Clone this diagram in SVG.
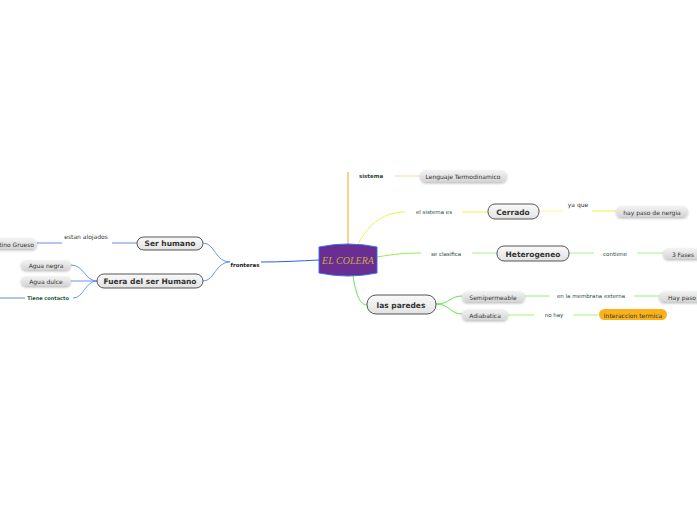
<svg xmlns="http://www.w3.org/2000/svg" width="697" height="520" viewBox="0 0 697 520">
<defs>
<linearGradient id="g" x1="0" y1="0" x2="0" y2="1"><stop offset="0" stop-color="#f4f4f4"/><stop offset="1" stop-color="#d4d4d4"/></linearGradient>
<linearGradient id="gn" x1="0" y1="0" x2="0" y2="1"><stop offset="0" stop-color="#fafafa"/><stop offset="1" stop-color="#e2e2e2"/></linearGradient>
<filter id="sh" x="-20%" y="-30%" width="140%" height="180%"><feDropShadow dx="0" dy="1.5" stdDeviation="1.2" flood-color="#000" flood-opacity="0.25"/></filter>
</defs>
<style>
text{font-family:"DejaVu Sans","Noto Sans",sans-serif;text-anchor:middle;dominant-baseline:central}
.pill{fill:url(#g);filter:url(#sh)}
.pt{font-size:6px;fill:#333}
.node{fill:url(#gn);stroke:#555;stroke-width:1}
.nt{font-size:7.5px;font-weight:bold;fill:#333}
.lb{font-size:5.5px;fill:#2a4a3a}
.l{fill:none;stroke-width:1}
</style>
<rect width="697" height="520" fill="#fff"/>
<g id="connectors">
<path class="l" d="M348 244 V172" stroke="#f7a21b" stroke-width="1.5"/>
<path class="l" d="M395 176 H420" stroke="#fdd9a0"/>
<path class="l" d="M358 244 C370 222 385 212 405 212" stroke="#f2f24a"/>
<path class="l" d="M462 212 H488" stroke="#f2f24a"/>
<path class="l" d="M539 211 H563" stroke="#f7f7a0"/>
<path class="l" d="M592 211 H616" stroke="#f2f24a"/>
<path class="l" d="M377 257 C395 254 405 253 421 253" stroke="#8ef24a"/>
<path class="l" d="M472 253 H497" stroke="#a6f57a"/>
<path class="l" d="M569 253 H594" stroke="#a6f57a"/>
<path class="l" d="M637 253 H663" stroke="#a6f57a"/>
<path class="l" d="M353 276 C356 295 360 305 367 305" stroke="#5ee84a" stroke-width="1.3"/>
<path class="l" d="M436 304 C450 304 450 296 462 296 M436 304 C450 304 450 314 462 314" stroke="#5ee84a"/>
<path class="l" d="M525 296 H549 M634 296 H659" stroke="#8ef27a"/>
<path class="l" d="M508 315 H534 M573 315 H598" stroke="#a6f57a"/>
<path class="l" d="M319 260 C300 261 280 262 261 262" stroke="#2b5fe8" stroke-width="1.5"/>
<path class="l" d="M230 262 C215 262 215 243 203 243 M230 262 C215 262 215 281 203 281" stroke="#6d95f0"/>
<path class="l" d="M112 243 H137 M37 243 H62" stroke="#6d8ae0"/>
<path class="l" d="M97 281 C85 281 84 265 71 265 M97 281 H71 M97 281 C85 281 84 298 73 298" stroke="#6d95f0"/>
<path class="l" d="M0 298 H25" stroke="#6d8ae0"/>
</g>
<g id="central">
<path d="M319 247 Q348 241 377 247 V273 Q348 279 319 273 Z" fill="#6a2d91" stroke="#3a6ee8" stroke-width="1"/>
<text x="348" y="260" style="font-family:'Liberation Serif',serif;font-size:10px;font-style:italic;fill:#c9a84a">EL COLERA</text>
</g>
<g id="sistema"><text class="lb" x="371" y="176" style="font-weight:bold">sistema</text></g>
<g id="lenguaje"><rect class="pill" x="420" y="170" width="87" height="12" rx="6"/><text class="pt" x="463" y="176">Lenguaje Termodinamico</text></g>
<g id="elsistema"><text class="lb" x="434" y="212">el sistema es</text></g>
<g id="cerrado"><rect class="node" x="488" y="204" width="51" height="15" rx="7"/><text class="nt" x="513" y="212">Cerrado</text></g>
<g id="yaque"><text class="pt" x="578" y="204">ya que</text></g>
<g id="haypaso"><rect class="pill" x="616" y="206" width="72" height="11" rx="5.5"/><text class="pt" x="652" y="212">hay paso de nergia</text></g>
<g id="seclasifica"><text class="lb" x="446" y="254">se clasifica</text></g>
<g id="heterogeneo"><rect class="node" x="497" y="246" width="72" height="15" rx="7"/><text class="nt" x="533" y="254">Heterogeneo</text></g>
<g id="contiene"><text class="lb" x="615" y="254">contiene</text></g>
<g id="fases"><rect class="pill" x="663" y="248" width="40" height="11" rx="5.5"/><text class="pt" x="683" y="254">3 Fases</text></g>
<g id="paredes"><rect class="node" x="367" y="295" width="69" height="19" rx="9"/><text class="nt" x="401" y="305">las paredes</text></g>
<g id="semi"><rect class="pill" x="462" y="291" width="63" height="11" rx="5.5"/><text class="pt" x="493" y="297">Semipermeable</text></g>
<g id="membrana"><text class="lb" x="591" y="296">en la membrana externa</text></g>
<g id="haypaso2"><rect class="pill" x="659" y="291" width="50" height="11" rx="5.5"/><text class="pt" x="668" y="297" style="text-anchor:start">Hay paso</text></g>
<g id="adiabatica"><rect class="pill" x="462" y="309" width="46" height="11" rx="5.5"/><text class="pt" x="485" y="315">Adiabatica</text></g>
<g id="nohay"><text class="lb" x="554" y="315">no hay</text></g>
<g id="interaccion"><rect x="599" y="309" width="68" height="11" rx="5.5" fill="#fbb21a"/><text class="pt" x="633" y="315">Interaccion termica</text></g>
<g id="fronteras"><text x="245" y="265" style="font-size:5.5px;font-weight:bold;fill:#222">fronteras</text></g>
<g id="serhumano"><rect class="node" x="137" y="237" width="66" height="13" rx="6.5"/><text class="nt" x="170" y="243.5">Ser humano</text></g>
<g id="alojados"><text class="pt" x="86" y="236">estan alojados</text></g>
<g id="intestino"><rect class="pill" x="-40" y="238" width="77" height="11" rx="5.5"/><text class="pt" x="34" y="244" style="text-anchor:end">Intestino Grueso</text></g>
<g id="fuera"><rect class="node" x="97" y="274" width="106" height="14" rx="7"/><text class="nt" x="150" y="281">Fuera del ser Humano</text></g>
<g id="aguanegra"><rect class="pill" x="21" y="260" width="50" height="10" rx="5"/><text class="pt" x="46" y="265">Agua negra</text></g>
<g id="aguadulce"><rect class="pill" x="21" y="276" width="50" height="10" rx="5"/><text class="pt" x="46" y="281">Agua dulce</text></g>
<g id="contacto"><text x="48" y="298" style="font-size:5px;font-weight:bold;fill:#1e5a3c">Tiene contacto</text></g>
</svg>
